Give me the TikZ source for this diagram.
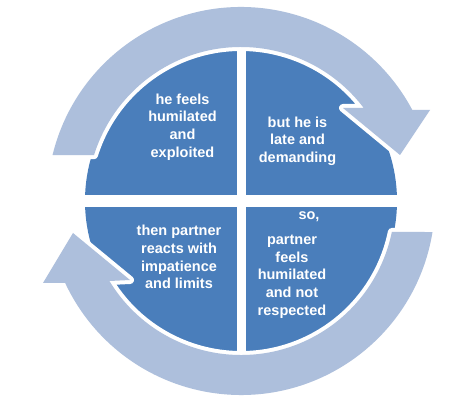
\documentclass[tikz,border=0pt]{standalone}
\usepackage{fontspec}
\setmainfont{Liberation Sans}
\definecolor{quad}{HTML}{4A7EBB}
\definecolor{arr}{HTML}{ADBFDC}
\begin{document}
\begin{tikzpicture}[x=1pt,y=-1pt,
  quadfill/.style={fill=quad},
  arrowband/.style={fill=arr, preaction={draw=white, line width=8pt, line join=round}},
  txt/.style={text=white, font=\bfseries\fontsize{14.5}{17.7}\selectfont, align=center, inner sep=0pt}]
\useasboundingbox (0,0) rectangle (474,403);
\coordinate (C) at (241,201);
% quadrants
\begin{scope}
\clip (C) circle[radius=156];
\fill[quadfill] (60,20) rectangle (236.5,195);
\fill[quadfill] (245.5,20) rectangle (420,195);
\fill[quadfill] (60,207) rectangle (236.5,380);
\fill[quadfill] (245.5,207) rectangle (420,380);
\end{scope}
% top arrow
\path[arrowband] ([shift={(C)}]193.7:194) arc[start angle=193.7,end angle=332,radius=194]
  -- (430,110) -- (400,155) -- (343,108)
  -- ([shift={(C)}]322.85:154) arc[start angle=322.85,end angle=197.3,radius=154] -- cycle;
% bottom arrow
\path[arrowband] ([shift={(C)}]9.2:194) arc[start angle=9.2,end angle=155,radius=194]
  -- (43,283) -- (73,233) -- (130,280)
  -- ([shift={(C)}]148.7:154) arc[start angle=148.7,end angle=11.6,radius=154] -- cycle;
% texts
\node[txt] (tl) at (182.5,127) {he feels\\humilated\\and\\exploited};
\node[txt] (tr) at (297.5,141) {but he is\\late and\\demanding};
\node[txt] (bl) at (179,257) {then partner\\reacts with\\impatience\\and limits};
\node[txt] (so) at (309,217) {so,};
\node[txt] (br) at (292,276.5) {partner\\feels\\humilated\\and not\\respected};
\end{tikzpicture}
\end{document}
